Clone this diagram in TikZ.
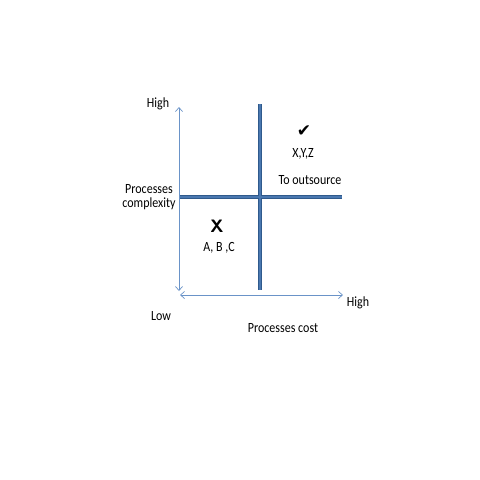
\documentclass[tikz,border=0pt]{standalone}
\usepackage{fontspec}
\setmainfont{Carlito}
\newfontfamily\symfont{DejaVu Sans}
\usetikzlibrary{arrows.meta}
\definecolor{axisblue}{HTML}{6A93C8}
\definecolor{barfill}{HTML}{4A78B0}
\definecolor{bardraw}{HTML}{2F5A8C}
\newcommand\tallbox[1]{\scalebox{1}[1.17]{#1}}
\tikzset{
  axis/.style={draw=axisblue, line width=0.7pt, {Straight Barb[length=4pt,width=7pt]}-{Straight Barb[length=4pt,width=7pt]}},
  bar/.style={draw=bardraw, line width=4pt},
  barin/.style={draw=barfill, line width=2.6pt},
  lbl/.style={font=\fontsize{12}{11.5}\selectfont, text=black, inner sep=0pt, align=center}
}
\begin{document}
\begin{tikzpicture}[x=1pt,y=-1pt]
\useasboundingbox (0,0) rectangle (480,480);
\fill[white] (0,0) rectangle (480,480);
% axes
\coordinate (vt) at (179,107);
\coordinate (vb) at (179,291);
\coordinate (hl) at (180,295);
\coordinate (hr) at (343,295);
\draw[axis] (vt) -- (vb);
\draw[axis] (hl) -- (hr);
% thick cross
\coordinate (ct) at (260,104);
\coordinate (cb) at (260,290);
\coordinate (cl) at (180,197);
\coordinate (cr) at (342,197);
\draw[bar] (cl) -- (cr);
\draw[bar] (ct) -- (cb);
\draw[barin] (cl) -- (cr);
\draw[barin] (ct) -- (cb);
% labels
\node[lbl] (high1) at (158,104) {\tallbox{High}};
\node[lbl] (pc) at (149,198) {\tallbox{\begin{tabular}{@{}c@{}}Processes\\complexity\end{tabular}}};
\node[lbl] (low) at (161,316) {\tallbox{Low}};
\node[lbl] (cost) at (283,328) {\tallbox{Processes cost}};
\node[lbl] (high2) at (358,303) {\tallbox{High}};
\node[font=\symfont\fontsize{17}{17}\selectfont, inner sep=0pt] (chk) at (304,131) {✔};
\node[lbl] (xyz) at (303,154) {\tallbox{X,Y,Z}};
\node[lbl] (out) at (310,180) {\tallbox{To outsource}};
\node[font=\sffamily\bfseries\fontsize{18}{18}\selectfont, inner sep=0pt] (xx) at (217,226) {X};
\node[lbl] (abc) at (219,248) {\tallbox{A, B ,C}};
\end{tikzpicture}
\end{document}
